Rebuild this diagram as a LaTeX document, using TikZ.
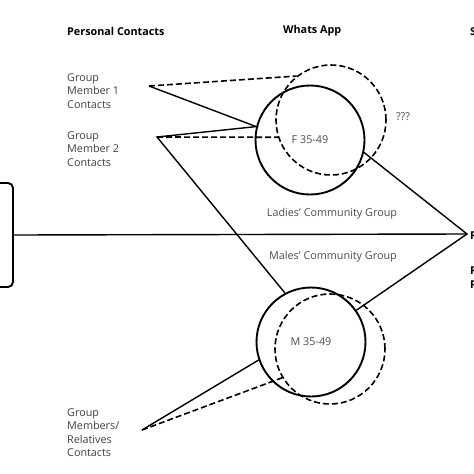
\documentclass[tikz,border=0pt]{standalone}
\usepackage{fontspec}
\setmainfont{Open Sans}
\usetikzlibrary{calc,positioning}
\tikzset{
  contact/.style={align=left, font=\fontsize{10.8}{13.6}\selectfont, text=black!75, inner sep=0pt, anchor=north west},
  heading/.style={font=\fontsize{10.8}{12}\selectfont\bfseries, inner sep=0pt, anchor=west},
  grouplabel/.style={font=\fontsize{10.8}{12}\selectfont, text=black!70, inner sep=0pt},
  agegroup/.style={circle, draw, line width=1.9pt, minimum size=109pt, inner sep=0pt, font=\fontsize{10.8}{12}\selectfont, text=black!70},
  shadowgroup/.style={circle, draw, line width=1.6pt, dash pattern=on 6pt off 3pt, minimum size=110pt, inner sep=0pt},
  link/.style={line width=1.4pt},
  dashlink/.style={line width=1.6pt, dash pattern=on 6pt off 3pt},
}
\begin{document}
\begin{tikzpicture}[x=1pt,y=-1pt]
\useasboundingbox (0,0) rectangle (474,474);
% headings
\node[heading] (pc) at (67,31) {Personal Contacts};
\node[heading] (wa) at (283,31) {Whats App};
\node[heading] (sm) at (470,31) {Social Media};
% whats app groups
\node[agegroup] (F) at (310,140) {F 35-49};
\node[shadowgroup] (Fq) at (331,120) {};
\node[grouplabel] (q) at (403,117) {???};
\node[agegroup] (M) at (311,342) {M 35-49};
\node[shadowgroup] (Mq) at (330,349) {};
% contacts
\node[contact] (g1) at (67,73) {Group\\Member 1\\Contacts};
\node[contact] (g2) at (67,131) {Group\\Member 2\\Contacts};
\node[contact] (g3) at (67,408) {Group\\Members/\\Relatives\\Contacts};
\coordinate (g1tip) at (149,86);
\coordinate (g2tip) at (157,137);
\coordinate (g3tip) at (142,430);
\draw[dashlink] (g1tip) -- (Fq.128);
\draw[link] (g1tip) -- (F.166) -- (g2tip) -- (M.118);
\draw[dashlink] (g2tip) -- (Fq.198);
\draw[link] (g3tip) -- (M.199);
\draw[dashlink] (g3tip) -- (Mq.211);
% community groups
\node[draw, line width=1.9pt, rounded corners=5pt, minimum width=26pt, minimum height=104pt] (box) at (0,235) {};
\coordinate (hub) at (467,234);
\draw[link] (F.-13) -- (hub) -- (M.35);
\draw[link] (box.east) -- (hub);
\node[grouplabel] (ladies) at (332,214) {Ladies’ Community Group};
\node[grouplabel] (males) at (333,257) {Males’ Community Group};
\node[heading] (res) at (470,235) {Researcher};
\node[contact, font=\fontsize{10.8}{13.6}\selectfont\bfseries, text=black] (rp) at (470,266) {Research\\Participants};
\end{tikzpicture}
\end{document}
